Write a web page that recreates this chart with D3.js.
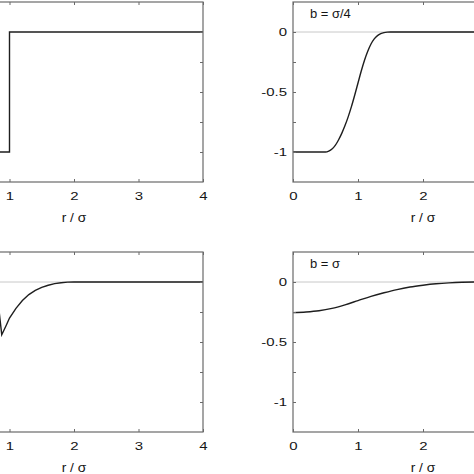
<html>
<head>
  <script src="https://d3js.org/d3.v7.min.js"></script>
  <style>
    body { margin: 0; background: white; }
    text { font-family: "Liberation Sans", Arial, sans-serif; fill: #151515; }
    .tick text { font-size: 11.5px; }
    .tick line { stroke: #6a6a6a; }
    .domain { display: none; }
    .title, .plabel { font-size: 12px; }
  </style>
</head>
<body>
  <svg width="474" height="474" id="chart"></svg>
  <script>
    // b = 0 : plain step
    const stepR = [0, 1, 1, 4];
    const stepV = [-1, -1, 0, 0];

    // b = sigma/4
    const quarterR = [0, 0.5, 0.55, 0.6, 0.65, 0.7, 0.75, 0.8, 0.85, 0.9, 0.95, 1.0, 1.05, 1.1, 1.15, 1.2, 1.25, 1.3, 1.35, 1.4, 1.45, 1.5, 4];
    const quarterV = [-1, -1, -0.992, -0.975, -0.945, -0.9, -0.845, -0.78, -0.705, -0.62, -0.525, -0.425, -0.325, -0.235, -0.16, -0.1, -0.057, -0.03, -0.014, -0.005, -0.001, 0, 0];

    // b = sigma/2
    const halfR = [0.8, 0.84, 0.88, 0.95, 1.0, 1.1, 1.2, 1.3, 1.4, 1.5, 1.6, 1.7, 1.8, 1.9, 2.0, 4];
    const halfV = [-0.1, -0.25, -0.44, -0.36, -0.3, -0.22, -0.155, -0.105, -0.07, -0.045, -0.027, -0.014, -0.006, -0.001, 0, 0];

    // b = sigma
    const fullR = [0, 0.2, 0.4, 0.6, 0.8, 1.0, 1.2, 1.4, 1.6, 1.8, 2.0, 2.2, 2.4, 2.6, 2.8, 4];
    const fullV = [-0.255, -0.25, -0.24, -0.22, -0.19, -0.155, -0.12, -0.09, -0.063, -0.042, -0.027, -0.015, -0.007, -0.002, 0, 0];

    const panelLabels = ["", "b = σ/4", "", "b = σ"];
    const xTicks = [0, 1, 2, 3, 4];
    const yTicks = [0, -0.25, -0.5, -0.75, -1];
    const yLabelTicks = [0, -0.5, -1];
    const xTitle = "r / σ";

    const W = 474;
    const svg = d3.select("#chart");

    const boxes = [
      { left: -55, right: 203, top: 2, bottom: 182 },
      { left: 293, right: 553, top: 2, bottom: 182 },
      { left: -55, right: 203, top: 252, bottom: 432 },
      { left: 293, right: 553, top: 252, bottom: 432 }
    ];
    const series = [[stepR, stepV], [quarterR, quarterV], [halfR, halfV], [fullR, fullV]];
    const smooth = [false, true, false, true];
    const showZero = [false, true, true, true];

    // the source figure's lettering is stretched sideways
    function widen(sel, k) {
      sel.each(function () {
        const len = this.getComputedTextLength();
        if (len > 0) {
          d3.select(this).attr("textLength", len * k).attr("lengthAdjust", "spacingAndGlyphs");
        }
      });
    }

    boxes.forEach((p, i) => {
      const x = d3.scaleLinear().domain([0, 4]).range([p.left, p.right]);
      const y = d3.scaleLinear().domain([0.25, -1.25]).range([p.top, p.bottom]);
      const g = svg.append("g");
      const inView = p.left >= 0;

      g.append("clipPath").attr("id", "clip" + i)
        .append("rect")
        .attr("x", p.left).attr("y", p.top)
        .attr("width", p.right - p.left).attr("height", p.bottom - p.top);

      if (showZero[i]) {
        g.append("line")
          .attr("x1", x(0)).attr("x2", x(4))
          .attr("y1", y(0)).attr("y2", y(0))
          .attr("stroke", "#c8c8c8").attr("stroke-width", 1);
      }

      const [rs, vs] = series[i];
      const pts = rs.map((r, k) => [r, vs[k]]);
      const line = d3.line()
        .x(d => x(d[0])).y(d => y(d[1]))
        .curve(smooth[i] ? d3.curveMonotoneX : d3.curveLinear);
      g.append("path")
        .attr("d", line(pts))
        .attr("clip-path", `url(#clip${i})`)
        .attr("fill", "none")
        .attr("stroke", "#1e1e1e")
        .attr("stroke-width", 1.4);

      // frame
      g.append("rect")
        .attr("x", p.left).attr("y", p.top)
        .attr("width", p.right - p.left).attr("height", p.bottom - p.top)
        .attr("fill", "none").attr("stroke", "#6a6a6a").attr("stroke-width", 1.2);

      // ticks point inward on every side
      g.append("g").attr("class", "x axis")
        .attr("transform", `translate(0,${p.bottom})`)
        .call(d3.axisBottom(x).tickValues(xTicks).tickSizeInner(-3).tickSizeOuter(0).tickPadding(9.5)
          .tickFormat(d => (x(d) < 0 || x(d) > W) ? "" : String(d)));
      g.append("g")
        .attr("transform", `translate(0,${p.top})`)
        .call(d3.axisTop(x).tickValues(xTicks).tickSizeInner(-3).tickSizeOuter(0).tickFormat(""));
      g.append("g").attr("class", "y axis")
        .attr("transform", `translate(${p.left},0)`)
        .call(d3.axisLeft(y).tickValues(yTicks).tickSizeInner(-3).tickSizeOuter(0).tickPadding(6)
          .tickFormat(d => inView && yLabelTicks.includes(d) ? String(d) : ""));
      g.append("g")
        .attr("transform", `translate(${p.right},0)`)
        .call(d3.axisRight(y).tickValues(yTicks).tickSizeInner(-3).tickSizeOuter(0).tickFormat(""));

      g.selectAll(".tick text").attr("font-size", null).attr("font-family", null).attr("fill", null);
      widen(g.selectAll(".tick text"), 1.3);

      g.append("text")
        .attr("class", "title")
        .attr("x", x(2))
        .attr("y", p.bottom + 39.5)
        .style("text-anchor", "middle")
        .text(xTitle)
        .call(widen, 1.15);

      if (panelLabels[i]) {
        g.append("text")
          .attr("class", "plabel")
          .attr("x", x(0) + 17)
          .attr("y", p.top + 16.3)
          .text(panelLabels[i])
          .call(widen, 1.08);
      }
    });
  </script>
</body>
</html>
